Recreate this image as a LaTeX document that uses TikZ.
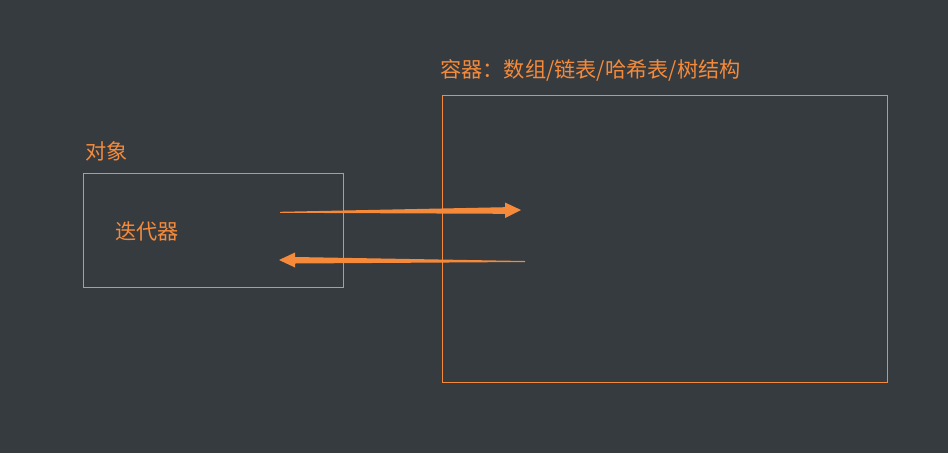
\documentclass[tikz,border=0pt]{standalone}
\usepackage{fontspec}
\newfontfamily\cjk{Noto Sans CJK SC}
\definecolor{bg}{HTML}{363B40}
\definecolor{org}{HTML}{F58A3A}
\begin{document}
\begin{tikzpicture}[x=1pt,y=-1pt,
  lbl/.style={anchor=west,inner sep=0pt,text=org,font=\cjk\fontsize{21.2}{24}\selectfont},
  boxline/.style={draw=org,line width=1pt}]
\fill[bg] (0,0) rectangle (948,453);
\useasboundingbox (0,0) rectangle (948,453);
% boxes
\node[boxline,inner sep=0pt,minimum width=260pt,minimum height=114pt,anchor=north west] (obj) at (83,173) {};
\node[boxline,inner sep=0pt,minimum width=445pt,minimum height=287pt,anchor=north west] (cont) at (442,95) {};
% labels
\node[lbl] (objl) at (85,151) {对象};
\node[lbl] (contl) at (440,70.5) {容器：数组/链表/哈希表/树结构};
\node[lbl] (iter) at (115,231) {迭代器};
% arrows (tapered)
\coordinate (t1) at (280,212.2);
\coordinate (h1) at (521,210);
\fill[org] (280,211.8) -- (505,207.2) -- (505,202.5) -- (h1) -- (505,218) -- (505,213.8) -- (280,212.8) -- cycle;
\coordinate (t2) at (525,261.5);
\coordinate (h2) at (279,260);
\fill[org] (525,261) -- (295,257) -- (295,252.5) -- (h2) -- (295,267.5) -- (295,263.5) -- (525,262) -- cycle;
\end{tikzpicture}
\end{document}
